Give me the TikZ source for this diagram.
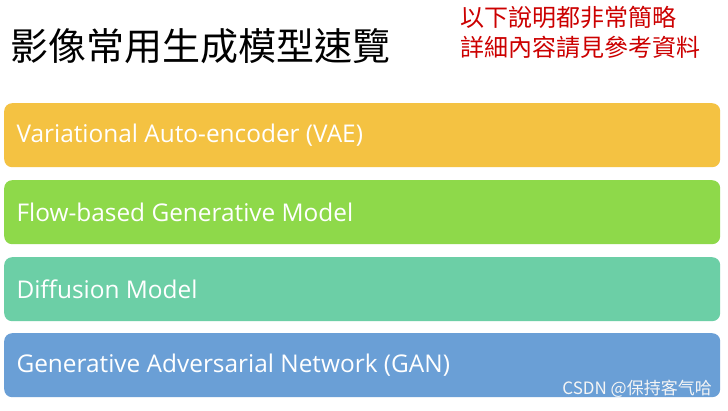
\documentclass[tikz,border=0pt]{standalone}
\usepackage{fontspec}
\setmainfont{Open Sans}
\newfontfamily\cjk{Noto Sans CJK TC}
\begin{document}
\begin{tikzpicture}[x=1pt,y=-1pt,
  bar/.style={rounded corners=8pt, minimum width=716pt, minimum height=64pt, anchor=north west, inner sep=0pt},
  bartext/.style={anchor=west, text=white, font=\fontsize{24.4}{28}\selectfont}]
\useasboundingbox[fill=white] (0,0) rectangle (728,410);
\node[anchor=west, font=\cjk\fontsize{38}{42}\selectfont, inner sep=0pt] (title) at (10,46) {影像常用生成模型速覽};
\node[anchor=north east, align=left, text=red!80!black, font=\cjk\fontsize{24}{30}\selectfont, inner sep=0pt] (note) at (701,6) {以下說明都非常簡略\\詳細內容請見參考資料};
\node[bar, fill={rgb,255:red,244;green,194;blue,66}] (b1) at (4,103) {};
\node[bar, fill={rgb,255:red,142;green,217;blue,74}] (b2) at (4,180) {};
\node[bar, fill={rgb,255:red,108;green,207;blue,166}] (b3) at (4,257) {};
\node[bar, fill={rgb,255:red,106;green,159;blue,214}] (b4) at (4,333) {};
\node[bartext] (t1) at (13,135) {Variational Auto-encoder (VAE)};
\node[bartext] (t2) at (13,212) {Flow-based Generative Model};
\node[bartext] (t3) at (13,289) {Diffusion Model};
\node[bartext] (t4) at (13,365) {Generative Adversarial Network (GAN)};
\node[anchor=east, text=white!92!gray, font=\cjk\fontsize{17}{19}\selectfont, inner sep=0pt] (wm) at (712,389) {CSDN @保持客气哈};
\end{tikzpicture}
\end{document}
